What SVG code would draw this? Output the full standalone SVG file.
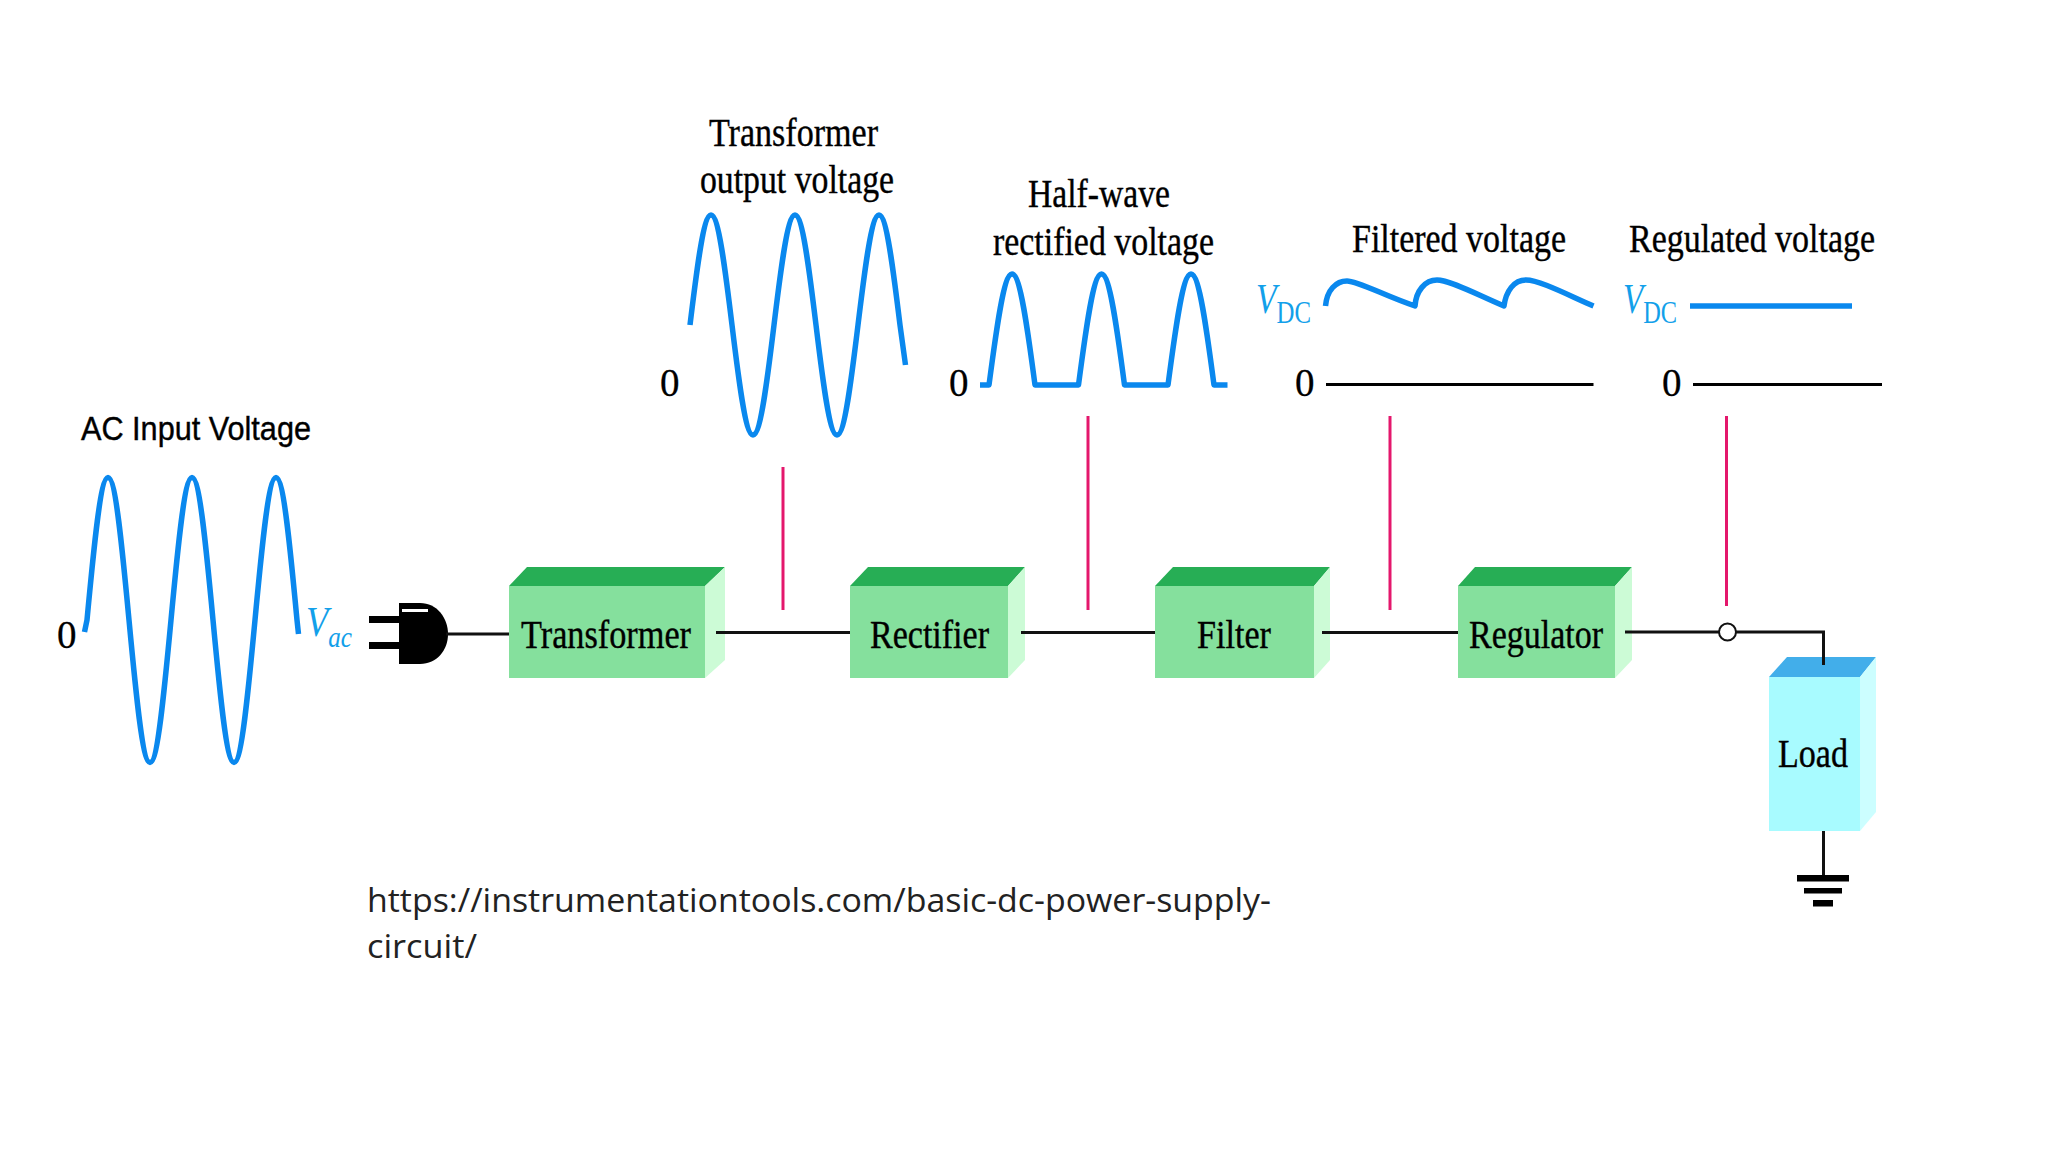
<svg xmlns="http://www.w3.org/2000/svg" width="2048" height="1152" viewBox="0 0 2048 1152">
<style>
text{font-family:"Liberation Serif","Times New Roman",serif;fill:#000}
.t{font-size:39px;stroke:#000;stroke-width:.3}
.b{font-size:41px;stroke:#000;stroke-width:.4}
.vb{fill:#12a0ea;font-style:italic;font-size:42px}
.ds{fill:#12a0ea;font-style:normal;font-size:31px}
.w{fill:none;stroke:#0a88ee;stroke-width:5.5;stroke-linejoin:round}
.k{fill:none;stroke:#000;stroke-width:3}
.c{fill:none;stroke:#111;stroke-width:3}
.r{fill:none;stroke:#e4176c;stroke-width:3}
.gf{fill:#85e09d}.gt{fill:#27ae55}.gr{fill:#ccfbd6}
.lf{fill:#a8fbff}.lt{fill:#42aeea}.lr{fill:#ccfeff}
</style>
<rect width="2048" height="1152" fill="#fff"/>

<g id="label-ac"><text x="81" y="440" textLength="230" lengthAdjust="spacingAndGlyphs" style="font-family:'Liberation Sans',Arial,sans-serif;font-size:34px;stroke:#000;stroke-width:.4">AC Input Voltage</text></g>
<g id="wave-ac">
<path class="w" d="M84.5,632 L87,620 c6.85,-73 13.4,-142.5 21,-142.5 c7.6,0 14.15,69.5 21,142.5 c6.85,73 13.4,142.5 21,142.5 c7.6,0 14.15,-69.5 21,-142.5 c6.85,-73 13.4,-142.5 21,-142.5 c7.6,0 14.15,69.5 21,142.5 c6.85,73 13.4,142.5 21,142.5 c7.6,0 14.15,-69.5 21,-142.5 c6.85,-73 13.4,-142.5 21,-142.5 c7.6,0 14.15,69.5 21,142.5 L298.5,634"/>
<text class="t" x="57" y="648">0</text>
<text class="vb" x="306" y="636" textLength="46" lengthAdjust="spacingAndGlyphs">V<tspan dy="11" style="font-size:29px">ac</tspan></text>
</g>

<g id="plug">
<rect x="369" y="616" width="32" height="7" fill="#000"/>
<rect x="369" y="642" width="32" height="7" fill="#000"/>
<path d="M399,603 L420,603 C437,603 448,618 448,634 C448,650 437,664 420,664 L399,664 Z" fill="#000"/>
<rect x="402" y="609" width="26" height="3" fill="#fff"/>
</g>

<g id="label-transformer-output">
<text class="b" x="709" y="146" textLength="169" lengthAdjust="spacingAndGlyphs">Transformer</text>
<text class="b" x="700" y="193" textLength="194" lengthAdjust="spacingAndGlyphs">output voltage</text>
</g>
<g id="wave-transformer">
<path class="w" d="M690,325 c6.85,-56.4 13.4,-110 21,-110 c7.6,0 14.15,53.6 21,110 c6.85,56.4 13.4,110 21,110 c7.6,0 14.15,-53.6 21,-110 c6.85,-56.4 13.4,-110 21,-110 c7.6,0 14.15,53.6 21,110 c6.85,56.4 13.4,110 21,110 c7.6,0 14.15,-53.6 21,-110 c6.85,-56.4 13.4,-110 21,-110 c7.6,0 14.15,53.6 21,110 L905.5,365"/>
<text class="t" x="660" y="396">0</text>
</g>

<g id="label-half-wave">
<text class="b" x="1028" y="207" textLength="142" lengthAdjust="spacingAndGlyphs">Half-wave</text>
<text class="b" x="993" y="255" textLength="221" lengthAdjust="spacingAndGlyphs">rectified voltage</text>
</g>
<g id="wave-half">
<path class="w" d="M980,385 L989,385 c7.5,-57 14.7,-111 23,-111 c8.3,0 15.5,54 23,111 L1078.5,385 c7.5,-57 14.7,-111 23,-111 c8.3,0 15.5,54 23,111 L1168,385 c7.5,-57 14.7,-111 23,-111 c8.3,0 15.5,54 23,111 L1227.5,385"/>
<text class="t" x="949" y="396">0</text>
</g>

<g id="label-filtered"><text class="b" x="1352" y="252" textLength="214" lengthAdjust="spacingAndGlyphs">Filtered voltage</text></g>
<g id="wave-filtered">
<path class="w" d="M1325.5,306 C1327,290 1336,281 1347,281 C1358,281 1385,296 1415,306 C1416,291 1425,280 1437,280 C1450,280 1480,296 1504,306 C1506,291 1514,280 1526,280 C1540,280 1570,296 1593.5,306"/>
<path class="k" d="M1326,384.5 H1593.5"/>
<text class="vb" x="1256" y="313" textLength="55" lengthAdjust="spacingAndGlyphs">V<tspan class="ds" dy="10">DC</tspan></text>
<text class="t" x="1295" y="396">0</text>
</g>

<g id="label-regulated"><text class="b" x="1629" y="252" textLength="246" lengthAdjust="spacingAndGlyphs">Regulated voltage</text></g>
<g id="wave-regulated">
<path class="w" d="M1690,306 H1852"/>
<path class="k" d="M1693,384.5 H1882"/>
<text class="vb" x="1623" y="313" textLength="54" lengthAdjust="spacingAndGlyphs">V<tspan class="ds" dy="10">DC</tspan></text>
<text class="t" x="1662" y="396">0</text>
</g>

<g id="node-transformer">
<polygon class="gt" points="509,586 527,567 725,567 705,586"/>
<polygon class="gr" points="705,586 725,567 725,660 705,678"/>
<rect class="gf" x="509" y="586" width="196" height="92"/>
<text class="b" x="521" y="648" textLength="170" lengthAdjust="spacingAndGlyphs">Transformer</text>
</g>
<g id="node-rectifier">
<polygon class="gt" points="850,586 868,567 1025,567 1008,586"/>
<polygon class="gr" points="1008,586 1025,567 1025,660 1008,678"/>
<rect class="gf" x="850" y="586" width="158" height="92"/>
<text class="b" x="870" y="648" textLength="119" lengthAdjust="spacingAndGlyphs">Rectifier</text>
</g>
<g id="node-filter">
<polygon class="gt" points="1155,586 1173,567 1330,567 1314,586"/>
<polygon class="gr" points="1314,586 1330,567 1330,660 1314,678"/>
<rect class="gf" x="1155" y="586" width="159" height="92"/>
<text class="b" x="1197" y="648" textLength="74" lengthAdjust="spacingAndGlyphs">Filter</text>
</g>
<g id="node-regulator">
<polygon class="gt" points="1458,586 1475,567 1632,567 1615,586"/>
<polygon class="gr" points="1615,586 1632,567 1632,660 1615,678"/>
<rect class="gf" x="1458" y="586" width="157" height="92"/>
<text class="b" x="1469" y="648" textLength="134" lengthAdjust="spacingAndGlyphs">Regulator</text>
</g>
<g id="node-load">
<polygon class="lt" points="1769,677 1787,657 1876,657 1860,677"/>
<polygon class="lr" points="1860,677 1876,657 1876,812 1860,831"/>
<rect class="lf" x="1769" y="677" width="91" height="154"/>
<text class="b" x="1778" y="767" textLength="70" lengthAdjust="spacingAndGlyphs">Load</text>
</g>

<g id="connectors">
<path class="c" d="M446,634 H509"/>
<path class="c" d="M716,632.5 H850"/>
<path class="c" d="M1021,632.5 H1155"/>
<path class="c" d="M1322,632.5 H1458"/>
<path class="c" d="M1625,632 H1719"/>
<path class="c" d="M1735,632 H1823.5 V665"/>
<path class="c" d="M1823.5,831 V875"/>
<path class="r" d="M783,467 V610"/>
<path class="r" d="M1088,416 V610"/>
<path class="r" d="M1390,416 V610"/>
<path class="r" d="M1726.5,416 V606"/>
</g>
<g id="test-point"><circle cx="1727.5" cy="632" r="8.5" fill="#fff" stroke="#111" stroke-width="2"/></g>
<g id="ground">
<rect x="1797" y="875" width="52" height="6.5" fill="#000"/>
<rect x="1804" y="888" width="38" height="5.5" fill="#000"/>
<rect x="1813" y="900" width="20" height="6.5" fill="#000"/>
</g>

<g id="source-url">
<text x="367" y="912" textLength="904" lengthAdjust="spacingAndGlyphs" style="font-family:'Open Sans','Noto Sans',sans-serif;font-size:33px;fill:#222">https://instrumentationtools.com/basic-dc-power-supply-</text>
<text x="367" y="958" textLength="110" lengthAdjust="spacingAndGlyphs" style="font-family:'Open Sans','Noto Sans',sans-serif;font-size:33px;fill:#222">circuit/</text>
</g>
</svg>
